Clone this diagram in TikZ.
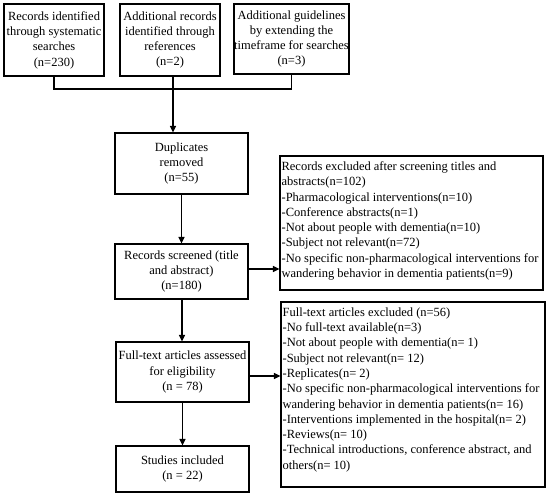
\documentclass[tikz,border=0pt]{standalone}
\usepackage{fontspec}
\setmainfont{Liberation Serif}
\usetikzlibrary{arrows.meta}
\begin{document}
\begin{tikzpicture}[x=1pt,y=-1pt,
  every node/.style={font=\fontsize{12.5}{15.3}\selectfont},
  box/.style={draw, line width=1.2pt, inner sep=0pt, align=center},
  txt/.style={inner sep=0pt, align=left, anchor=north west},
  conn/.style={line width=1.2pt},
  arr/.style={line width=1.2pt, -{Triangle[length=6.5pt,width=6pt]}}]
\useasboundingbox (0,0) rectangle (550,497);
\node[box, minimum width=100pt, minimum height=72pt] (b1) at (54,40) {Records identified\\through systematic\\searches\\(n=230)};
\node[box, minimum width=100pt, minimum height=72pt] (b2) at (170,40) {Additional records\\identified through\\references\\(n=2)};
\node[box, minimum width=115pt, minimum height=70pt] (b3) at (291.5,39) {Additional guidelines\\by extending the\\timeframe for searches\\(n=3)};
\node[box, minimum width=133pt, minimum height=61pt] (dup) at (181.5,163.5) {Duplicates\\removed\\(n=55)};
\node[box, minimum width=133pt, minimum height=55pt] (scr) at (181.5,271.5) {Records screened (title\\and abstract)\\(n=180)};
\node[box, minimum width=133pt, minimum height=60pt] (ft) at (182.5,372) {Full-text articles assessed\\for eligibility\\(n = 78)};
\node[box, minimum width=133pt, minimum height=46pt] (inc) at (182.5,469) {Studies included\\(n = 22)};
\node[box, minimum width=263pt, minimum height=134pt] (r1) at (411.5,223) {};
\node[txt] (r1t) at ([xshift=2pt,yshift=-6pt]r1.north west) {Records excluded after screening titles and\\abstracts(n=102)\\-Pharmacological interventions(n=10)\\-Conference abstracts(n=1)\\-Not about people with dementia(n=10)\\-Subject not relevant(n=72)\\-No specific non-pharmacological interventions for\\wandering behavior in dementia patients(n=9)};
\node[box, minimum width=264pt, minimum height=185pt] (r2) at (413,394.5) {};
\node[txt] (r2t) at ([xshift=2pt,yshift=-6pt]r2.north west) {Full-text articles excluded (n=56)\\-No full-text available(n=3)\\-Not about people with dementia(n= 1)\\-Subject not relevant(n= 12)\\-Replicates(n= 2)\\-No specific non-pharmacological interventions for\\wandering behavior in dementia patients(n= 16)\\-Interventions implemented in the hospital(n= 2)\\-Reviews(n= 10)\\-Technical introductions, conference abstract, and\\others(n= 10)};
\coordinate (j) at (173,89);
\draw[conn] (b1.south) |- (j) -| (b3.south);
\draw[conn] (j |- b2.south) -- (j);
\draw[arr] (j) -- (j |- dup.north);
\draw[arr] (dup.south) -- (scr.north);
\draw[arr] ([xshift=0.5pt]scr.south) -- ([xshift=0.5pt]scr.south |- ft.north);
\draw[arr] (ft.south) -- (inc.north);
\draw[arr] ([yshift=2.5pt]scr.east) -- ([yshift=2.5pt]scr.east -| r1.west);
\draw[arr] ([yshift=-4pt]ft.east) -- ([yshift=-4pt]ft.east -| r2.west);
\end{tikzpicture}
\end{document}
